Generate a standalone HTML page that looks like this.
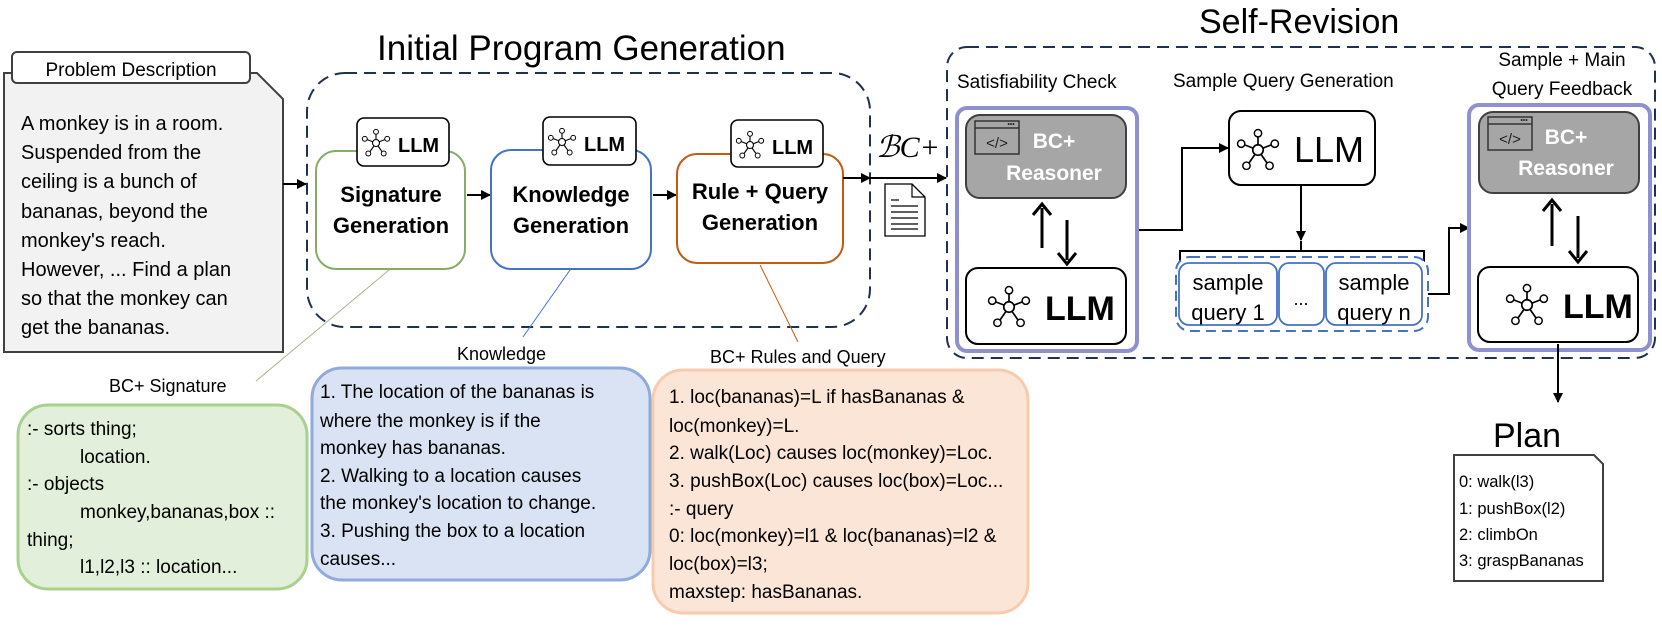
<!DOCTYPE html>
<html><head><meta charset="utf-8"><style>
html,body{margin:0;padding:0;background:#fff;}
svg{display:block;font-family:"Liberation Sans",sans-serif;}
</style></head><body>
<svg width="1662" height="627" viewBox="0 0 1662 627" xmlns="http://www.w3.org/2000/svg">
<defs>
<marker id="ah" markerWidth="10" markerHeight="10" refX="9" refY="5" orient="auto" markerUnits="userSpaceOnUse"><path d="M0,0 L10,5 L0,10 z" fill="#000"/></marker>
<g id="net">
<line x1="0" y1="0" x2="0" y2="-14" stroke="#000" stroke-width="1.6"/>
<line x1="0" y1="0" x2="-13" y2="-5" stroke="#000" stroke-width="1.6"/>
<line x1="0" y1="0" x2="13" y2="-5" stroke="#000" stroke-width="1.6"/>
<line x1="0" y1="0" x2="-9" y2="13" stroke="#000" stroke-width="1.6"/>
<line x1="0" y1="0" x2="9" y2="13" stroke="#000" stroke-width="1.6"/>
<circle cx="0" cy="0" r="5" fill="#fff" stroke="#000" stroke-width="1.6"/>
<circle cx="0" cy="-16" r="3.5" fill="#fff" stroke="#000" stroke-width="1.4"/>
<circle cx="-16" cy="-6" r="3.5" fill="#fff" stroke="#000" stroke-width="1.4"/>
<circle cx="16" cy="-6" r="3.5" fill="#fff" stroke="#000" stroke-width="1.4"/>
<circle cx="-11" cy="15" r="3.5" fill="#fff" stroke="#000" stroke-width="1.4"/>
<circle cx="11" cy="15" r="3.5" fill="#fff" stroke="#000" stroke-width="1.4"/>
</g>
<g id="win">
<rect x="0" y="0" width="44" height="33" fill="none" stroke="#333" stroke-width="1.5"/>
<line x1="0" y1="7" x2="44" y2="7" stroke="#333" stroke-width="1.5"/>
<text x="36" y="5.5" font-size="7" fill="#222" text-anchor="middle">•••</text>
<text x="22" y="27" font-size="15" fill="#222" text-anchor="middle">&lt;/&gt;</text>
</g>
</defs>

<!-- Titles -->
<text x="377" y="60" font-size="35" fill="#000">Initial Program Generation</text>
<text x="1199" y="33" font-size="34" fill="#000">Self-Revision</text>

<!-- Problem description -->
<path d="M4,73 L257,73 L283,99 L283,352 L4,352 Z" fill="#f2f2f2" stroke="#404040" stroke-width="2"/>
<rect x="12" y="52" width="238" height="31" rx="5" fill="#fff" stroke="#404040" stroke-width="2"/>
<text x="131" y="76" font-size="19" text-anchor="middle">Problem Description</text>
<g font-size="20" fill="#000">
<text x="21" y="130">A monkey is in a room.</text>
<text x="21" y="159">Suspended from the</text>
<text x="21" y="188">ceiling is a bunch of</text>
<text x="21" y="218">bananas, beyond the</text>
<text x="21" y="247">monkey's reach.</text>
<text x="21" y="276">However, ... Find a plan</text>
<text x="21" y="305">so that the monkey can</text>
<text x="21" y="334">get the bananas.</text>
</g>
<line x1="283" y1="184" x2="306" y2="184" stroke="#000" stroke-width="2" marker-end="url(#ah)"/>

<!-- Initial dashed box -->
<rect x="307" y="73" width="563" height="254" rx="38" fill="none" stroke="#1f3050" stroke-width="2" stroke-dasharray="12,7"/>

<!-- Signature -->
<rect x="316" y="151" width="149" height="118" rx="20" fill="#fff" stroke="#87ab68" stroke-width="2"/>
<rect x="357" y="118" width="92" height="48" rx="7" fill="#fff" stroke="#000" stroke-width="1.6"/>
<use href="#net" transform="translate(376,143) scale(0.7)"/>
<text x="398" y="152" font-size="20" font-weight="bold">LLM</text>
<text x="391" y="202" font-size="22" font-weight="bold" text-anchor="middle">Signature</text>
<text x="391" y="233" font-size="22" font-weight="bold" text-anchor="middle">Generation</text>
<line x1="467" y1="195" x2="490" y2="195" stroke="#000" stroke-width="2" marker-end="url(#ah)"/>

<!-- Knowledge -->
<rect x="491" y="150" width="160" height="119" rx="20" fill="#fff" stroke="#4472c4" stroke-width="2"/>
<rect x="543" y="117" width="93" height="48" rx="7" fill="#fff" stroke="#000" stroke-width="1.6"/>
<use href="#net" transform="translate(562,142) scale(0.7)"/>
<text x="584" y="151" font-size="20" font-weight="bold">LLM</text>
<text x="571" y="202" font-size="22" font-weight="bold" text-anchor="middle">Knowledge</text>
<text x="571" y="233" font-size="22" font-weight="bold" text-anchor="middle">Generation</text>
<line x1="653" y1="195" x2="676" y2="195" stroke="#000" stroke-width="2" marker-end="url(#ah)"/>

<!-- Rule+Query -->
<rect x="677" y="154" width="166" height="109" rx="20" fill="#fff" stroke="#c55a11" stroke-width="2"/>
<rect x="731" y="120" width="92" height="47" rx="7" fill="#fff" stroke="#000" stroke-width="1.6"/>
<use href="#net" transform="translate(750,145) scale(0.7)"/>
<text x="772" y="154" font-size="20" font-weight="bold">LLM</text>
<text x="760" y="199" font-size="22" font-weight="bold" text-anchor="middle">Rule + Query</text>
<text x="760" y="230" font-size="22" font-weight="bold" text-anchor="middle">Generation</text>

<!-- BC+ connector -->
<line x1="843" y1="178" x2="870" y2="178" stroke="#000" stroke-width="2" marker-end="url(#ah)"/>
<line x1="870" y1="178" x2="946" y2="178" stroke="#000" stroke-width="2" marker-end="url(#ah)"/>
<text x="876" y="157" font-size="30" font-family="'Liberation Serif',serif" font-style="italic">ℬC+</text>
<path d="M885,184 L912,184 L925,197 L925,236 L885,236 Z" fill="#fff" stroke="#000" stroke-width="1.3"/>
<path d="M912,184 L912,197 L925,197" fill="none" stroke="#000" stroke-width="1.2"/>
<g stroke="#000" stroke-width="1.2"><line x1="891" y1="200" x2="899" y2="200"/><line x1="891" y1="206" x2="918" y2="206"/><line x1="891" y1="212" x2="918" y2="212"/><line x1="891" y1="218" x2="918" y2="218"/><line x1="891" y1="224" x2="918" y2="224"/><line x1="891" y1="229" x2="918" y2="229"/></g>

<!-- Self-revision dashed box -->
<rect x="947" y="47" width="708" height="311" rx="20" fill="none" stroke="#1f3050" stroke-width="2" stroke-dasharray="12,7"/>
<text x="957" y="88" font-size="19">Satisfiability Check</text>
<text x="1173" y="87" font-size="19">Sample Query Generation</text>
<text x="1562" y="66" font-size="19" text-anchor="middle">Sample + Main</text>
<text x="1562" y="95" font-size="19" text-anchor="middle">Query Feedback</text>

<!-- Left purple -->
<rect x="957" y="108" width="180" height="243" rx="10" fill="#fff" stroke="#8e90d2" stroke-width="4"/>
<rect x="966" y="115" width="160" height="83" rx="14" fill="#a6a6a6" stroke="#404040" stroke-width="2"/>
<use href="#win" transform="translate(975,121)"/>
<text x="1054" y="148" font-size="21" font-weight="bold" fill="#fff" text-anchor="middle">BC+</text>
<text x="1054" y="180" font-size="21" font-weight="bold" fill="#fff" text-anchor="middle">Reasoner</text>
<line x1="1042" y1="248" x2="1042" y2="208" stroke="#000" stroke-width="3"/>
<path d="M1033,215 L1042,204 L1051,215" fill="none" stroke="#000" stroke-width="3"/>
<line x1="1067" y1="220" x2="1067" y2="260" stroke="#000" stroke-width="3"/>
<path d="M1058,253 L1067,264 L1076,253" fill="none" stroke="#000" stroke-width="3"/>
<rect x="966" y="268" width="160" height="76" rx="12" fill="#fff" stroke="#000" stroke-width="2"/>
<use href="#net" transform="translate(1009,307) scale(1.05)"/>
<text x="1045" y="320" font-size="34" font-weight="bold">LLM</text>

<!-- connector to mid LLM -->
<path d="M1139,230 L1182,230 L1182,148 L1228,148" fill="none" stroke="#000" stroke-width="2" marker-end="url(#ah)"/>

<!-- mid LLM -->
<rect x="1229" y="111" width="146" height="74" rx="12" fill="#fff" stroke="#000" stroke-width="2"/>
<use href="#net" transform="translate(1258,150) scale(1.05)"/>
<text x="1294" y="162" font-size="36">LLM</text>
<line x1="1301" y1="186" x2="1301" y2="240" stroke="#000" stroke-width="2" marker-end="url(#ah)"/>
<path d="M1180,262 L1180,251 L1424,251 L1424,262 M1301,251 L1301,241" fill="none" stroke="#000" stroke-width="2"/>

<!-- sample queries -->
<rect x="1176" y="257" width="252" height="74" rx="14" fill="#fff" stroke="#4472c4" stroke-width="2" stroke-dasharray="10,6"/>
<rect x="1179" y="263" width="98" height="62" rx="10" fill="#fff" stroke="#4472c4" stroke-width="1.8"/>
<rect x="1279" y="263" width="45" height="62" rx="10" fill="#fff" stroke="#4472c4" stroke-width="1.8"/>
<rect x="1326" y="263" width="96" height="62" rx="10" fill="#fff" stroke="#4472c4" stroke-width="1.8"/>
<text x="1228" y="290" font-size="22" text-anchor="middle">sample</text>
<text x="1228" y="320" font-size="22" text-anchor="middle">query 1</text>
<text x="1301" y="305" font-size="18" text-anchor="middle">...</text>
<text x="1374" y="290" font-size="22" text-anchor="middle">sample</text>
<text x="1374" y="320" font-size="22" text-anchor="middle">query n</text>
<path d="M1428,294 L1449,294 L1449,228 L1469,228" fill="none" stroke="#000" stroke-width="2" marker-end="url(#ah)"/>

<!-- Right purple -->
<rect x="1469" y="105" width="181" height="245" rx="10" fill="#fff" stroke="#8e90d2" stroke-width="4"/>
<rect x="1479" y="112" width="160" height="81" rx="14" fill="#a6a6a6" stroke="#404040" stroke-width="2"/>
<use href="#win" transform="translate(1488,117)"/>
<text x="1566" y="144" font-size="21" font-weight="bold" fill="#fff" text-anchor="middle">BC+</text>
<text x="1566" y="175" font-size="21" font-weight="bold" fill="#fff" text-anchor="middle">Reasoner</text>
<line x1="1552" y1="246" x2="1552" y2="204" stroke="#000" stroke-width="3"/>
<path d="M1543,211 L1552,200 L1561,211" fill="none" stroke="#000" stroke-width="3"/>
<line x1="1578" y1="216" x2="1578" y2="258" stroke="#000" stroke-width="3"/>
<path d="M1569,251 L1578,262 L1587,251" fill="none" stroke="#000" stroke-width="3"/>
<rect x="1478" y="267" width="160" height="75" rx="12" fill="#fff" stroke="#000" stroke-width="2"/>
<use href="#net" transform="translate(1527,305) scale(1.05)"/>
<text x="1563" y="318" font-size="34" font-weight="bold">LLM</text>

<!-- Plan -->
<line x1="1558" y1="344" x2="1558" y2="402" stroke="#000" stroke-width="2" marker-end="url(#ah)"/>
<text x="1527" y="447" font-size="34" text-anchor="middle">Plan</text>
<path d="M1454,455 L1594,455 L1603,464 L1603,581 L1454,581 Z" fill="#fff" stroke="#404040" stroke-width="2"/>
<g font-size="16.5"><text x="1459" y="487">0: walk(l3)</text><text x="1459" y="514">1: pushBox(l2)</text><text x="1459" y="540">2: climbOn</text><text x="1459" y="566">3: graspBananas</text></g>

<!-- callout lines -->
<line x1="389" y1="270" x2="256" y2="381" stroke="#a9b48a" stroke-width="1"/>
<line x1="570" y1="270" x2="523" y2="337" stroke="#4472c4" stroke-width="1"/>
<line x1="760" y1="265" x2="798" y2="342" stroke="#c55a11" stroke-width="1"/>

<!-- labels -->
<text x="109" y="392" font-size="18">BC+ Signature</text>
<text x="457" y="360" font-size="18">Knowledge</text>
<text x="710" y="363" font-size="18">BC+ Rules and Query</text>

<!-- green box -->
<rect x="18" y="405" width="289" height="184" rx="30" fill="#e2efda" stroke="#a9d18e" stroke-width="3"/>
<g font-size="19">
<text x="27" y="435">:- sorts thing;</text>
<text x="80" y="463">location.</text>
<text x="27" y="490">:- objects</text>
<text x="80" y="518">monkey,bananas,box ::</text>
<text x="27" y="546">thing;</text>
<text x="80" y="573">l1,l2,l3 :: location...</text>
</g>

<!-- blue box -->
<rect x="312" y="368" width="338" height="212" rx="30" fill="#dae3f3" stroke="#8faadc" stroke-width="3"/>
<g font-size="19">
<text x="320" y="398">1.  The location of the bananas is</text>
<text x="320" y="427">where the monkey is if the</text>
<text x="320" y="454">monkey has bananas.</text>
<text x="320" y="482">2. Walking to a location causes</text>
<text x="320" y="509">the monkey's location to change.</text>
<text x="320" y="537">3. Pushing the box to a location</text>
<text x="320" y="565">causes...</text>
</g>

<!-- orange box -->
<rect x="653" y="370" width="375" height="243" rx="30" fill="#fbe5d6" stroke="#f8cbad" stroke-width="3"/>
<g font-size="19">
<text x="669" y="403">1. loc(bananas)=L if hasBananas &amp;</text>
<text x="669" y="432">loc(monkey)=L.</text>
<text x="669" y="459">2. walk(Loc) causes loc(monkey)=Loc.</text>
<text x="669" y="487">3. pushBox(Loc) causes loc(box)=Loc...</text>
<text x="669" y="515">:- query</text>
<text x="669" y="542">0: loc(monkey)=l1 &amp;   loc(bananas)=l2 &amp;</text>
<text x="669" y="570">loc(box)=l3;</text>
<text x="669" y="598">maxstep: hasBananas.</text>
</g>
</svg>
</body></html>
